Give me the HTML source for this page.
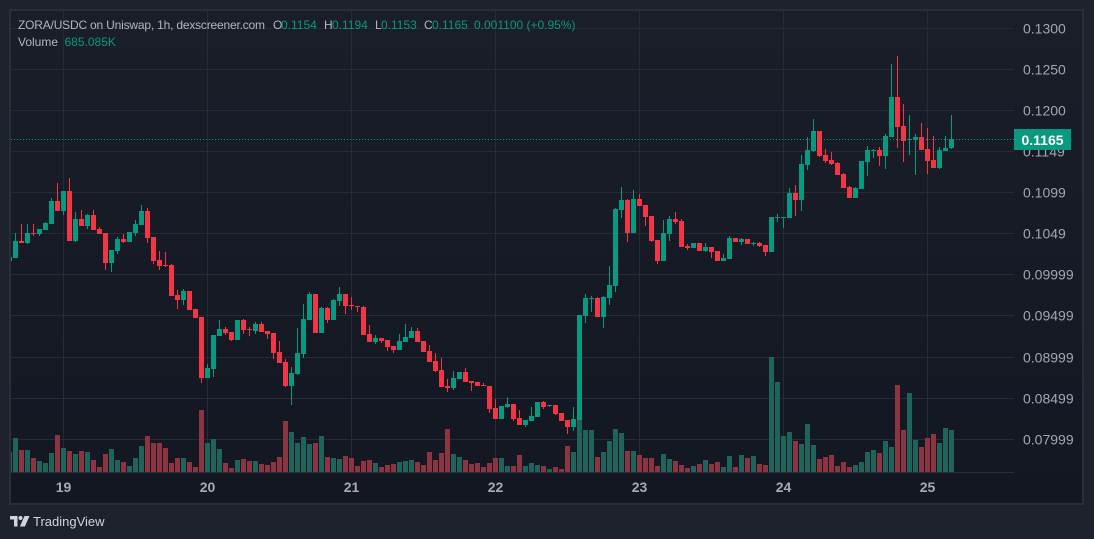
<!DOCTYPE html>
<html>
<head>
<meta charset="utf-8">
<title>ZORA/USDC chart</title>
<style>
html,body{margin:0;padding:0;width:1094px;height:539px;overflow:hidden;background:#1e222d;}
svg{display:block;font-family:"Liberation Sans",sans-serif;}
</style>
</head>
<body>
<svg id="chart" xmlns="http://www.w3.org/2000/svg" width="1094" height="539" viewBox="0 0 1094 539">
  <defs>
    <linearGradient id="plotBg" x1="0" y1="0" x2="0" y2="1">
      <stop offset="0" stop-color="#1a1e29"/>
      <stop offset="1" stop-color="#131722"/>
    </linearGradient>
    <clipPath id="plotClip"><rect x="11" y="11" width="1003" height="461"/></clipPath>
  </defs>
  <rect x="0" y="0" width="1094" height="539" fill="#1e222d"/>
  <rect x="10" y="10" width="1073" height="494" fill="url(#plotBg)" stroke="#2a2e39" stroke-width="2"/>
  <g id="grid"></g>
  <line x1="11" x2="1014" y1="472.5" y2="472.5" stroke="#2a2e39"/>
  <g id="volumes" clip-path="url(#plotClip)"></g>
  <g id="candles" clip-path="url(#plotClip)"></g>
  <g id="priceLabels"></g>
  <g id="timeLabels"></g>
  <line id="lastLine" x1="11" x2="1014" stroke="#089981" stroke-dasharray="1 2"/>
  <rect id="lastTag" x="1014" width="57" height="21" fill="#089981"/>
  <text id="lastText" x="1042.5" text-anchor="middle" font-size="14" font-weight="bold" fill="#ffffff"></text>

  <g font-size="12">
    <text x="18" y="29" fill="#b2b5be" textLength="247" lengthAdjust="spacing">ZORA/USDC on Uniswap, 1h, dexscreener.com</text>
    <text x="273" y="29" fill="#b2b5be">O</text>
    <text x="281" y="29" fill="#089981">0.1154</text>
    <text x="324" y="29" fill="#b2b5be">H</text>
    <text x="332" y="29" fill="#089981">0.1194</text>
    <text x="375" y="29" fill="#b2b5be">L</text>
    <text x="381" y="29" fill="#089981">0.1153</text>
    <text x="424" y="29" fill="#b2b5be">C</text>
    <text x="432" y="29" fill="#089981">0.1165</text>
    <text x="474" y="29" fill="#089981">0.001100 (+0.95%)</text>
    <text x="18" y="46" fill="#b2b5be">Volume</text>
    <text x="64.5" y="46" fill="#089981">685.085K</text>
  </g>

  <g>
    <g fill="#d1d4dc">
      <path d="M10 516h7.5v10.5h-3.5v-7h-4z"/>
      <circle cx="20.5" cy="518" r="2"/>
      <path d="M24.5 516h5l-4.6 10.5h-5z"/>
    </g>
    <text x="33" y="526" font-size="13" fill="#d1d4dc">TradingView</text>
  </g>
</svg>
<script>
// Prices are in units of 0.0001 USDC
const opens=[
1017.0,1020.6,1041.3,1038.9,1051.0,1049.8,1054.7,1061.9,1089.9,1077.8,
1102.1,1041.3,1068.0,1059.5,1072.9,1055.9,1051.0,1014.5,1029.1,1043.7,
1040.1,1051.0,1060.7,1077.8,1046.2,1018.2,1012.1,1012.1,975.6,969.5,
980.5,958.6,948.9,874.7,885.6,925.8,934.3,930.6,920.9,945.2,
934.3,931.8,940.4,931.8,929.4,906.3,894.1,865.0,879.5,903.9,
945.2,976.8,929.4,959.8,945.2,968.3,976.8,963.5,962.2,961.0,
928.2,918.5,923.3,920.9,913.6,908.7,918.5,923.3,931.8,919.7,
907.5,895.4,884.4,865.0,862.5,873.5,882.0,871.0,869.8,866.2,
865.0,838.2,824.8,839.4,843.1,826.0,817.5,822.4,827.2,845.5,
840.6,841.8,832.1,823.6,815.1,823.6,950.1,970.7,972.0,948.9,
972.0,986.6,1079.0,1091.2,1051.0,1092.4,1085.1,1071.7,1042.5,1017.0,
1049.8,1068.0,1065.6,1035.2,1032.8,1038.9,1029.1,1034.0,1029.1,1017.0,
1019.4,1044.9,1040.1,1043.7,1037.6,1038.9,1036.4,1027.9,1069.3,1069.3,
1069.3,1099.7,1091.2,1133.7,1150.8,1175.1,1145.9,1139.8,1136.2,1122.8,
1107.0,1093.6,1104.6,1137.4,1150.8,1152.0,1144.7,1167.8,1216.4,1181.2,
1164.1,1164.1,1167.8,1153.2,1139.8,1130.1,1150.8,1154];
const highs=[
1021.8,1051.0,1061.9,1061.9,1061.9,1055.9,1064.4,1093.6,1111.8,1102.1,
1117.9,1076.6,1079.0,1074.1,1079.0,1058.3,1051.0,1030.3,1046.2,1049.8,
1052.2,1066.8,1085.1,1081.4,1046.2,1029.1,1027.9,1013.3,981.7,982.9,
980.5,958.6,948.9,891.7,927.0,945.2,936.7,930.6,945.2,946.4,
936.7,942.8,942.8,931.8,929.4,919.7,897.8,888.1,935.5,964.7,
979.3,976.8,961.0,961.0,970.7,985.4,976.8,973.2,962.2,962.2,
939.1,927.0,923.3,920.9,913.6,928.2,940.4,936.7,935.5,919.7,
914.8,905.1,899.0,873.5,883.2,882.0,886.8,871.0,869.8,868.6,
865.0,849.1,840.6,851.6,843.1,835.8,823.6,839.4,845.5,846.7,
841.8,841.8,832.1,823.6,839.4,951.3,976.8,974.4,973.2,974.4,
1010.9,1081.4,1107.0,1092.4,1103.3,1098.5,1085.1,1071.7,1042.5,1066.8,
1071.7,1076.6,1068.0,1037.6,1038.9,1038.9,1038.9,1034.0,1029.1,1025.5,
1047.4,1044.9,1044.9,1043.7,1040.1,1040.1,1036.4,1070.5,1074.1,1070.5,
1105.8,1109.4,1145.9,1167.8,1189.7,1175.1,1153.2,1149.5,1137.4,1124.0,
1108.2,1107.0,1138.6,1156.8,1153.2,1155.6,1171.4,1256.6,1266.3,1207.9,
1194.5,1171.4,1184.8,1178.7,1169.0,1155.6,1169.0,1194];
const lows=[
1017.0,1020.6,1038.9,1037.6,1047.4,1047.4,1054.7,1061.9,1077.8,1072.9,
1041.3,1040.1,1059.5,1055.9,1054.7,1049.8,1006.0,1003.6,1025.5,1038.9,
1040.1,1047.4,1060.7,1038.9,1013.3,1006.0,1009.7,974.4,958.6,963.5,
957.4,947.6,868.6,874.7,875.9,925.8,927.0,919.7,920.9,928.2,
925.8,928.2,930.6,922.1,897.8,892.9,863.7,841.8,878.3,899.0,
945.2,929.4,929.4,941.6,945.2,962.2,952.5,957.4,955.0,927.0,
918.5,916.0,917.2,907.5,905.1,908.7,918.5,923.3,918.5,906.3,
894.1,882.0,863.7,857.6,860.1,873.5,869.8,858.9,865.0,865.0,
832.1,824.8,824.8,838.2,822.4,817.5,815.1,822.4,827.2,837.0,
839.4,829.7,822.4,806.6,810.2,823.6,941.6,955.0,948.9,935.5,
963.5,979.3,1069.3,1040.1,1051.0,1083.9,1059.5,1040.1,1013.3,1017.0,
1041.3,1061.9,1034.0,1030.3,1032.8,1029.1,1027.9,1020.6,1017.0,1017.0,
1019.4,1040.1,1036.4,1037.6,1035.2,1034.0,1023.1,1027.9,1064.4,1057.1,
1069.3,1071.7,1077.8,1127.6,1149.5,1143.5,1136.2,1133.7,1121.6,1105.8,
1093.6,1093.6,1104.6,1120.3,1142.2,1132.5,1128.9,1167.8,1154.4,1137.4,
1145.9,1121.6,1152.0,1122.8,1130.1,1128.9,1150.8,1153];
const closes=[
1021.8,1041.3,1038.9,1051.0,1049.8,1055.9,1063.2,1089.9,1077.8,1102.1,
1041.3,1068.0,1059.5,1072.9,1054.7,1049.8,1014.5,1030.3,1043.7,1040.1,
1052.2,1061.9,1077.8,1044.9,1017.0,1010.9,1010.9,974.4,969.5,980.5,
957.4,947.6,874.7,886.8,927.0,934.3,929.4,920.9,945.2,933.1,
933.1,940.4,930.6,928.2,905.1,892.9,865.0,880.8,905.1,946.4,
976.8,929.4,959.8,945.2,969.5,976.8,962.2,962.2,961.0,927.0,
918.5,923.3,919.7,912.4,908.7,919.7,924.5,931.8,918.5,906.3,
894.1,883.2,863.7,862.5,874.7,882.0,869.8,868.6,865.0,865.0,
837.0,824.8,840.6,843.1,824.8,817.5,823.6,828.5,845.5,839.4,
841.8,830.9,822.4,815.1,824.8,951.3,972.0,972.0,948.9,973.2,
987.8,1080.2,1091.2,1051.0,1092.4,1083.9,1070.5,1041.3,1017.0,1051.0,
1068.0,1064.4,1034.0,1032.8,1038.9,1029.1,1034.0,1027.9,1017.0,1020.6,
1044.9,1040.1,1043.7,1037.6,1038.9,1035.2,1027.9,1070.5,1070.5,1070.5,
1099.7,1091.2,1134.9,1152.0,1175.1,1144.7,1138.6,1134.9,1121.6,1105.8,
1093.6,1105.8,1138.6,1152.0,1152.0,1144.7,1169.0,1216.4,1179.9,1162.9,
1165.3,1167.8,1152.0,1138.6,1130.1,1152.0,1154.4,1165];
// Volume in thousands
const volumes=[
326,555,359,359,228,179,147,310,604,391,
343,294,343,326,196,82,294,375,196,163,
98,228,424,587,473,473,391,147,228,228,
163,82,1011,473,538,375,147,65,196,212,
179,179,130,114,163,245,832,652,473,571,
457,473,587,245,228,212,261,228,98,179,
196,147,82,114,130,163,179,196,163,114,
326,196,310,701,294,245,196,130,147,82,
147,228,228,98,98,277,98,147,114,98,
49,82,49,424,326,848,685,685,245,326,
506,701,636,343,343,277,228,228,98,294,
212,179,114,65,98,130,196,130,163,82,
261,82,277,228,261,130,114,1876,1468,587,
652,506,457,783,440,212,245,277,98,163,
82,114,163,326,359,310,506,408,1419,685,
1289,522,408,555,620,473,718,685.085];
const priceTicks=[1300,1250,1200,1149.9,1099.9,1049.9,999.9,949.9,899.9,849.9,799.9];
const priceTickLabels=["0.1300","0.1250","0.1200","0.1149","0.1099","0.1049","0.09999","0.09499","0.08999","0.08499","0.07999"];
const dayLabels=["19","20","21","22","23","24","25"];
const dayBarIndex=[9,33,57,81,105,129,153];
const lastPrice=1165;
const lastPriceLabel="0.1165";

const NS="http://www.w3.org/2000/svg";
const GREEN="#089981", RED="#f23645";
const VOL_GREEN="#1f635a", VOL_RED="#8c3542";
function yScale(p){return 28.1+(1300-p)*0.8222;}
function xScale(i){return 9+6*i;}
function volHeight(v){return v*42/685.085;}
function mk(parent,tag,attrs){
  const el=document.createElementNS(NS,tag);
  for(const k in attrs){el.setAttribute(k,attrs[k]);}
  parent.appendChild(el);
  return el;
}
const gridG=document.getElementById('grid');
const volG=document.getElementById('volumes');
const candleG=document.getElementById('candles');
const priceG=document.getElementById('priceLabels');
const timeG=document.getElementById('timeLabels');

priceTicks.forEach(function(p,k){
  const y=Math.floor(yScale(p))+0.5;
  const line=mk(gridG,'line',{x1:11,x2:1014,y1:y,y2:y,stroke:'#272b36'});
  
  
  const t=mk(priceG,'text',{x:1023,y:y+5,'font-size':14,fill:'#a3a6af'});
  t.textContent=priceTickLabels[k];
  
  
});
dayBarIndex.forEach(function(i,k){
  const x=xScale(i)+0.5;
  const line=mk(gridG,'line',{x1:x,x2:x,y1:11,y2:472,stroke:'#272b36'});
  
  
  const t=mk(timeG,'text',{x:x,y:492,'font-size':14,'font-weight':'bold','text-anchor':'middle',fill:'#a8abb5'});
  t.textContent=dayLabels[k];
  
  
});
volumes.forEach(function(v,i){
  const up=closes[i]>=opens[i];
  const h=Math.round(volHeight(v));
  const bar=mk(volG,'rect',{x:xScale(i)-2,y:472-h,width:5,height:h,fill:up?VOL_GREEN:VOL_RED});
  
  
});
opens.forEach(function(o,i){
  const c=closes[i];
  const up=c>=o;
  const col=up?GREEN:RED;
  const x=xScale(i);
  const yHi=Math.round(yScale(highs[i]));
  const yLo=Math.round(yScale(lows[i]));
  const yTop=Math.round(yScale(Math.max(o,c)));
  const yBot=Math.round(yScale(Math.min(o,c)));
  const wick=mk(candleG,'rect',{x:x,y:yHi,width:1,height:Math.max(yLo-yHi,1),fill:col});
  
  
  const body=mk(candleG,'rect',{x:x-2,y:yTop,width:5,height:Math.max(yBot-yTop,1),fill:col});
  
  
});
const lastY=Math.round(yScale(lastPrice));
document.getElementById('lastLine').setAttribute('y1',lastY+0.5);
document.getElementById('lastLine').setAttribute('y2',lastY+0.5);
document.getElementById('lastTag').setAttribute('y',lastY-10);
document.getElementById('lastText').setAttribute('y',lastY+6);
document.getElementById('lastText').textContent=lastPriceLabel;
</script>
</body>
</html>
